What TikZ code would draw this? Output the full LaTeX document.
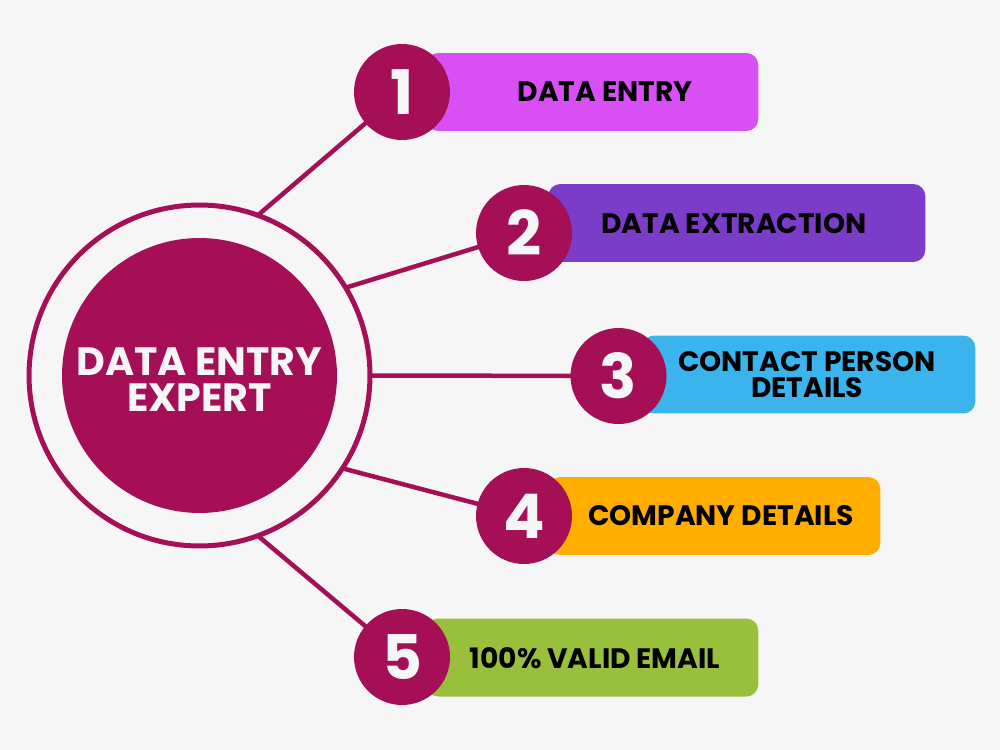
\documentclass[tikz,border=0pt]{standalone}
\usepackage{fontspec}
\setmainfont{Poppins}
\usepackage{xcolor}
\usetikzlibrary{positioning,calc}

\definecolor{plum}{HTML}{A50F55}
\definecolor{paper}{HTML}{F6F6F6}
\definecolor{orchid}{HTML}{D94FF6}
\definecolor{violet}{HTML}{7B3CC7}
\definecolor{sky}{HTML}{3BB4EE}
\definecolor{amber}{HTML}{FFAE00}
\definecolor{lime}{HTML}{98C03D}

\begin{document}
\begin{tikzpicture}[
  x=0.02cm, y=-0.02cm,
  bar/.style={rounded corners=0.24cm, minimum height=1.56cm, anchor=west, inner sep=0pt},
  num/.style={circle, fill=plum, minimum size=1.92cm, inner sep=0pt, text=paper,
    font=\bfseries\fontsize{35}{35}\selectfont},
  lbl/.style={align=center, font=\bfseries\fontsize{16}{14.8}\selectfont, text=black},
  spoke/.style={draw=plum, line width=0.09cm}
]
\fill[paper] (0,0) rectangle (1000,750);
\useasboundingbox (0,0) rectangle (1000,750);

% hub
\node[circle, draw=plum, line width=0.1cm, minimum size=6.82cm, outer sep=0pt] (ring) at (199.5,375.5) {};
\node[circle, fill=plum, minimum size=5.5cm] (hub) at (199.5,375.5) {};
\node[align=center, text=paper, font=\bfseries\fontsize{22.5}{20.4}\selectfont] (title) at (199.5,380) {DATA ENTRY\\EXPERT};

% centres of the numbered discs
\coordinate (c1) at (402,92);
\coordinate (c2) at (524,233);
\coordinate (c3) at (618.5,376);
\coordinate (c4) at (524,516);
\coordinate (c5) at (402,657);

\draw[spoke] (ring.70) -- (c1);
\draw[spoke] (ring.31) -- (c2);
\draw[spoke] (ring.0) -- (c3);
\draw[spoke] (ring.-33) -- (c4);
\draw[spoke] (ring.-70) -- (c5);

% bars
\node[bar, fill=orchid, minimum width=6.64cm] (b1) at (426,92) {};
\node[bar, fill=violet, minimum width=7.54cm] (b2) at (548,223) {};
\node[bar, fill=sky, minimum width=6.66cm] (b3) at (642,374.5) {};
\node[bar, fill=amber, minimum width=6.64cm] (b4) at (548,516) {};
\node[bar, fill=lime, minimum width=6.64cm] (b5) at (426,657.5) {};

\node[lbl] (t1) at (605,92) {DATA ENTRY};
\node[lbl] (t2) at (734,224) {DATA EXTRACTION};
\node[lbl] (t3) at (807,375) {CONTACT PERSON\\DETAILS};
\node[lbl] (t4) at (721,516) {COMPANY DETAILS};
\node[lbl] (t5) at (595,658) {100\% VALID EMAIL};

% numbered discs
\node[num] (n1) at (c1) {1};
\node[num] (n2) at (c2) {2};
\node[num] (n3) at (c3) {3};
\node[num] (n4) at (c4) {4};
\node[num] (n5) at (c5) {5};
\end{tikzpicture}
\end{document}
